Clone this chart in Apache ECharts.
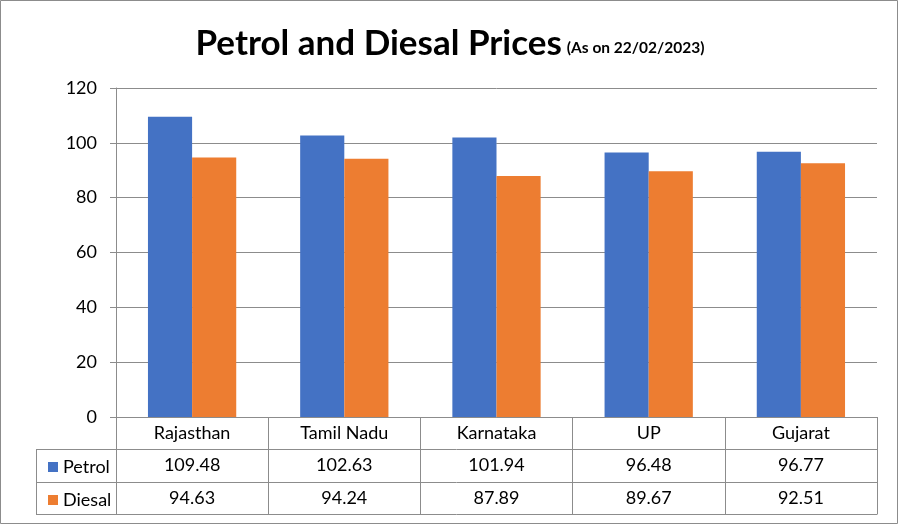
<!DOCTYPE html>
<html><head><meta charset="utf-8">
<script src="https://cdn.jsdelivr.net/npm/echarts@6/dist/echarts.min.js"></script>
<style>html,body{margin:0;padding:0;background:#fff}#c{width:900px;height:525px}</style>
</head><body><div id="c"></div>
<script>
const categories = ['Rajasthan', 'Tamil Nadu', 'Karnataka', 'UP', 'Gujarat'];
const petrol = [109.48, 102.63, 101.94, 96.48, 96.77];
const diesel = [94.63, 94.24, 87.89, 89.67, 92.51];
const seriesNames = ['Petrol', 'Diesal'];
const titleText = 'Petrol and Diesal Prices';
const subtitleText = '(As on 22/02/2023)';
const yMin = 0, yMax = 120, yInterval = 20;

const FONT = 'Lato';
const GRAY = '#8c8c8c';
const TXT = '#000';
const chart = echarts.init(document.getElementById('c'), null, {renderer: 'canvas'});

const gridLeft = 116, gridRight = 23, gridTop = 88, gridBottom = 108;
const row1 = 449.5, row2 = 482.5, row3 = 514.5, tableLeft = 36, tableRight = 900 - gridRight;

chart.setOption({
  backgroundColor: '#fff',
  animation: false,
  color: ['#4472C4', '#ED7D31'],
  title: {
    text: '{a|' + titleText + '} {b|' + subtitleText + '}',
    left: 'center', top: 12,
    textStyle: {
      rich: {
        a: {fontFamily: FONT, fontWeight: 'bold', fontSize: 35, color: TXT, verticalAlign: 'bottom', lineHeight: 44},
        b: {fontFamily: FONT, fontWeight: 'bold', fontSize: 15.5, color: TXT, verticalAlign: 'bottom', lineHeight: 44, padding: [0, 0, 5, 0]}
      }
    }
  },
  legend: {
    orient: 'vertical', left: 43, top: 453,
    itemWidth: 10, itemHeight: 10, itemGap: 15,
    icon: 'rect',
    textStyle: {fontFamily: FONT, fontSize: 18, color: TXT, lineHeight: 18},
    data: seriesNames
  },
  grid: {left: gridLeft, right: gridRight, top: gridTop, bottom: gridBottom, containLabel: false},
  xAxis: [
    {
      type: 'category', data: categories, position: 'bottom',
      axisLine: {show: true, lineStyle: {color: GRAY, width: 1}},
      axisTick: {show: true, length: row3 - 417, interval: 0, lineStyle: {color: GRAY}},
      axisLabel: {fontFamily: FONT, fontSize: 18, color: TXT, margin: 6, lineHeight: 20, interval: 0}
    },
    {
      type: 'category', data: petrol.map(v => v.toFixed(2)), position: 'bottom', offset: row1 - 417,
      axisLine: {show: false}, axisTick: {show: false},
      axisLabel: {fontFamily: FONT, fontSize: 18, color: TXT, margin: 6, lineHeight: 20, interval: 0}
    },
    {
      type: 'category', data: diesel.map(v => v.toFixed(2)), position: 'bottom', offset: row2 - 417,
      axisLine: {show: false}, axisTick: {show: false},
      axisLabel: {fontFamily: FONT, fontSize: 18, color: TXT, margin: 6, lineHeight: 20, interval: 0}
    }
  ],
  yAxis: {
    type: 'value', min: yMin, max: yMax, interval: yInterval,
    axisLine: {show: true, lineStyle: {color: GRAY}},
    axisTick: {show: true, length: 6, lineStyle: {color: GRAY}},
    splitLine: {show: true, lineStyle: {color: GRAY, width: 1}},
    axisLabel: {fontFamily: FONT, fontSize: 18, color: TXT, margin: 19}
  },
  series: [
    {name: seriesNames[0], type: 'bar', data: petrol, barGap: 0, barCategoryGap: '42%', xAxisIndex: 0},
    {name: seriesNames[1], type: 'bar', data: diesel, barGap: 0, barCategoryGap: '42%', xAxisIndex: 0}
  ],
  graphic: [
    {type: 'rect', shape: {x: 0.5, y: 0.5, width: 897, height: 523}, style: {fill: 'none', stroke: GRAY, lineWidth: 1}, silent: true},
    {type: 'line', shape: {x1: tableLeft, y1: row1, x2: tableRight, y2: row1}, style: {stroke: GRAY, lineWidth: 1}, silent: true},
    {type: 'line', shape: {x1: tableLeft, y1: row2, x2: tableRight, y2: row2}, style: {stroke: GRAY, lineWidth: 1}, silent: true},
    {type: 'line', shape: {x1: tableLeft, y1: row3, x2: tableRight, y2: row3}, style: {stroke: GRAY, lineWidth: 1}, silent: true},
    {type: 'line', shape: {x1: tableLeft + 0.5, y1: row1, x2: tableLeft + 0.5, y2: row3}, style: {stroke: GRAY, lineWidth: 1}, silent: true}
  ]
});
</script></body></html>
